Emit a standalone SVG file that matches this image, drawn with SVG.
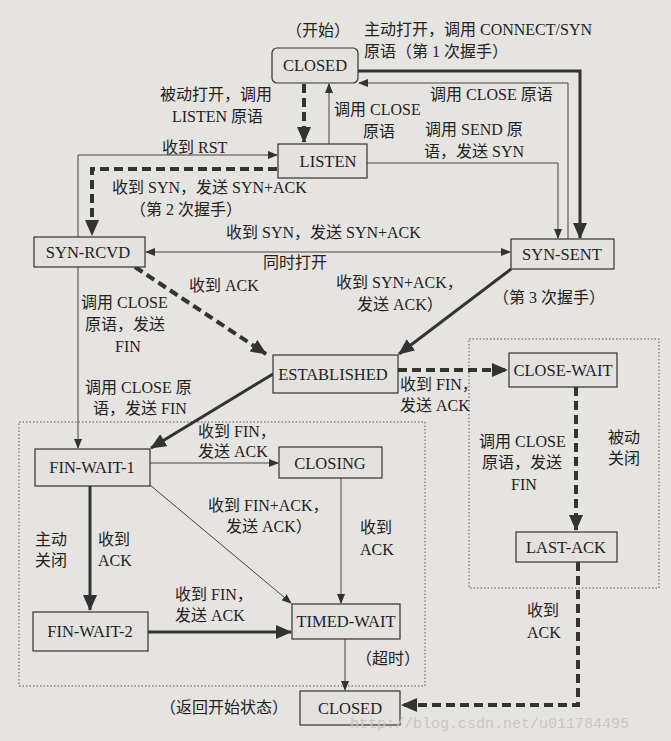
<svg xmlns="http://www.w3.org/2000/svg" width="671" height="741" viewBox="0 0 671 741">
<defs>
<style>
.n rect{fill:#e4e2df;stroke:#333;stroke-width:1.2}
.n text{font-family:"Liberation Serif","Noto Sans CJK SC",serif;font-size:16.5px;fill:#222;text-anchor:middle}
.t{font-family:"Liberation Serif","Noto Sans CJK SC",serif;font-size:16px;fill:#222}
.thin{fill:none;stroke:#444;stroke-width:1}
.thick{fill:none;stroke:#333;stroke-width:3}
.dash{fill:none;stroke:#333;stroke-width:4;stroke-dasharray:9,5}
.dot{fill:none;stroke:#555;stroke-width:1;stroke-dasharray:1.5,2}
</style>
<marker id="a" markerWidth="10" markerHeight="8" refX="9" refY="4" orient="auto" markerUnits="userSpaceOnUse"><path d="M0,0L10,4L0,8z" fill="#333"/></marker>
<marker id="as" markerWidth="10" markerHeight="8" refX="1" refY="4" orient="auto" markerUnits="userSpaceOnUse"><path d="M10,0L0,4L10,8z" fill="#333"/></marker>
<marker id="A" markerWidth="16" markerHeight="14" refX="15" refY="7" orient="auto" markerUnits="userSpaceOnUse"><path d="M0,0L16,7L0,14z" fill="#333"/></marker>
</defs>
<rect width="671" height="741" fill="#e6e4e1"/>
<rect class="dot" x="19" y="422" width="406" height="264"/>
<rect class="dot" x="469" y="339" width="190" height="249"/>
<g id="connectors">
<path class="dash" d="M304,84V142" marker-end="url(#A)"/>
<path class="thin" d="M329,144V84" marker-end="url(#a)"/>
<path class="thick" d="M358,71H580V238" marker-end="url(#A)"/>
<path class="thin" d="M568,239V83H359" marker-end="url(#a)"/>
<path class="thin" d="M367,163H558V238" marker-end="url(#a)"/>
<path class="thin" d="M78,237V155H277" marker-end="url(#a)"/>
<path class="dash" d="M277,169H92V235" marker-end="url(#A)"/>
<path class="thin" d="M146,252H510" marker-start="url(#as)" marker-end="url(#a)"/>
<path class="dash" d="M135,267L266,354" marker-end="url(#A)"/>
<path class="thick" d="M511,269L399,354" marker-end="url(#A)"/>
<path class="thin" d="M78,267V448" marker-end="url(#a)"/>
<path class="dash" d="M398,370H507" marker-end="url(#A)"/>
<path class="thick" d="M273,374L151,448" marker-end="url(#A)"/>
<path class="thin" d="M150,463H278" marker-end="url(#a)"/>
<path class="thin" d="M150,485L291,603" marker-end="url(#a)"/>
<path class="thin" d="M341,478V603" marker-end="url(#a)"/>
<path class="thick" d="M90,486V610" marker-end="url(#A)"/>
<path class="thick" d="M148,632H291" marker-end="url(#A)"/>
<path class="thin" d="M345,639V690" marker-end="url(#a)"/>
<path class="dash" d="M576,387V530" marker-end="url(#A)"/>
<path class="dash" d="M578,562V705H402" marker-end="url(#A)"/>
</g>
<g id="closed-top" class="n"><rect x="272" y="48" width="86" height="35" rx="5"/><text x="315" y="71">CLOSED</text></g>
<g id="listen" class="n"><rect x="278" y="144" width="89" height="34"/><text x="328" y="167">LISTEN</text></g>
<g id="syn-rcvd" class="n"><rect x="34" y="237" width="111" height="30"/><text x="88" y="258">SYN-RCVD</text></g>
<g id="syn-sent" class="n"><rect x="511" y="239" width="103" height="30"/><text x="562" y="260">SYN-SENT</text></g>
<g id="established" class="n"><rect x="273" y="355" width="125" height="38"/><text x="333" y="380">ESTABLISHED</text></g>
<g id="close-wait" class="n"><rect x="509" y="353" width="108" height="34"/><text x="563" y="376">CLOSE-WAIT</text></g>
<g id="fin-wait-1" class="n"><rect x="35" y="449" width="115" height="37"/><text x="92" y="473">FIN-WAIT-1</text></g>
<g id="closing" class="n"><rect x="279" y="447" width="103" height="31"/><text x="330" y="469">CLOSING</text></g>
<g id="last-ack" class="n"><rect x="516" y="532" width="101" height="30"/><text x="566" y="553">LAST-ACK</text></g>
<g id="fin-wait-2" class="n"><rect x="33" y="612" width="115" height="39"/><text x="90" y="637">FIN-WAIT-2</text></g>
<g id="timed-wait" class="n"><rect x="292" y="604" width="108" height="35"/><text x="346" y="627">TIMED-WAIT</text></g>
<g id="closed-bottom" class="n"><rect x="300" y="691" width="100" height="34"/><text x="350" y="714">CLOSED</text></g>
<g id="labels" class="t">
<text x="286" y="36">（开始）</text>
<text x="364" y="35">主动打开，调用 CONNECT/SYN</text>
<text x="364" y="57">原语（第 1 次握手）</text>
<text x="160" y="100">被动打开，调用</text>
<text x="172" y="122">LISTEN 原语</text>
<text x="334" y="115">调用 CLOSE</text>
<text x="363" y="137">原语</text>
<text x="430" y="100">调用 CLOSE 原语</text>
<text x="425" y="135">调用 SEND 原</text>
<text x="424" y="157">语，发送 SYN</text>
<text x="162" y="153">收到 RST</text>
<text x="112" y="193">收到 SYN，发送 SYN+ACK</text>
<text x="130" y="215">（第 2 次握手）</text>
<text x="226" y="238">收到 SYN，发送 SYN+ACK</text>
<text x="263" y="268">同时打开</text>
<text x="189" y="291">收到 ACK</text>
<text x="81" y="308">调用 CLOSE</text>
<text x="85" y="330">原语，发送</text>
<text x="115" y="352">FIN</text>
<text x="336" y="288">收到 SYN+ACK，</text>
<text x="357" y="310">发送 ACK）</text>
<text x="493" y="303">（第 3 次握手）</text>
<text x="85" y="393">调用 CLOSE 原</text>
<text x="93" y="414">语，发送 FIN</text>
<text x="400" y="390">收到 FIN，</text>
<text x="400" y="411">发送 ACK</text>
<text x="198" y="437">收到 FIN，</text>
<text x="198" y="457">发送 ACK</text>
<text x="479" y="447">调用 CLOSE</text>
<text x="482" y="468">原语，发送</text>
<text x="511" y="490">FIN</text>
<text x="608" y="443">被动</text>
<text x="608" y="464">关闭</text>
<text x="208" y="511">收到 FIN+ACK，</text>
<text x="226" y="532">发送 ACK）</text>
<text x="360" y="533">收到</text>
<text x="360" y="555">ACK</text>
<text x="35" y="545">主动</text>
<text x="35" y="566">关闭</text>
<text x="98" y="545">收到</text>
<text x="98" y="566">ACK</text>
<text x="175" y="600">收到 FIN，</text>
<text x="175" y="621">发送 ACK</text>
<text x="356" y="664">（超时）</text>
<text x="527" y="616">收到</text>
<text x="527" y="638">ACK</text>
<text x="160" y="713">（返回开始状态）</text>
</g>
<text x="350" y="728" font-family="Liberation Mono,monospace" font-size="15" fill="#c8c6c3">http://blog.csdn.net/u011784495</text>
</svg>
